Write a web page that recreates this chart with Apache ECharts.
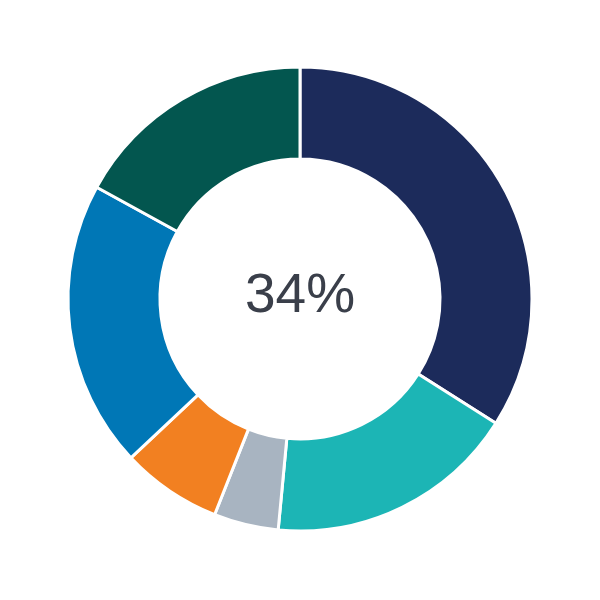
<!DOCTYPE html>
<html>
<head>
<meta charset="utf-8">
<script src="https://cdn.jsdelivr.net/npm/echarts@6/dist/echarts.min.js"></script>
<style>html,body{margin:0;padding:0;background:#fff}#c{width:600px;height:600px}</style>
</head>
<body>
<div id="c"></div>
<script>
var categories = ['A', 'B', 'C', 'D', 'E', 'F'];
var values = [34, 17.5, 4.5, 7, 20, 17];
var colors = ['#1c2b5b', '#1cb5b5', '#a8b4c1', '#f28021', '#0077b6', '#03564f'];
var centerLabel = '34%';

var chart = echarts.init(document.getElementById('c'), null, {renderer: 'canvas'});
chart.setOption({
  animation: false,
  backgroundColor: '#ffffff',
  graphic: [{
    type: 'text',
    style: {
      text: centerLabel,
      x: 300, y: 297,
      textAlign: 'center',
      textVerticalAlign: 'middle',
      font: '400 55px "Liberation Sans", Arial, sans-serif',
      fill: '#3a3f4a'
    }
  }],
  series: [{
    type: 'pie',
    center: [300, 299],
    radius: [140, 232],
    startAngle: 90,
    clockwise: true,
    label: {show: false},
    labelLine: {show: false},
    itemStyle: {borderColor: '#ffffff', borderWidth: 3},
    data: categories.map(function (c, i) {
      return {name: c, value: values[i], itemStyle: {color: colors[i]}};
    })
  }]
});
</script>
</body>
</html>
